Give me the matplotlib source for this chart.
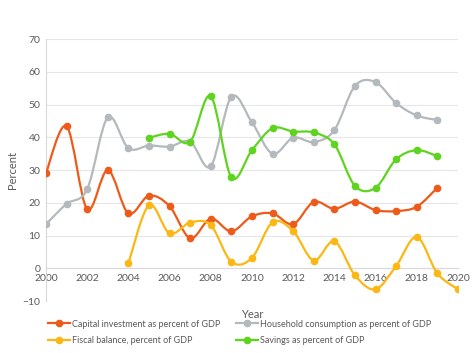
import matplotlib.pyplot as plt
from matplotlib.path import Path
from matplotlib.patches import PathPatch
from matplotlib.lines import Line2D

plt.rcParams['font.family'] = ['Lato', 'DejaVu Sans']

years_capital = list(range(2000, 2020))
capital = [29.1, 43.4, 18.1, 30.0, 16.8, 22.2, 19.0, 9.2, 15.2, 11.3,
           15.9, 16.8, 13.5, 20.3, 18.2, 20.4, 17.8, 17.5, 18.8, 24.6]

years_household = list(range(2000, 2020))
household = [13.5, 19.7, 24.2, 46.1, 36.7, 37.5, 37.2, 38.7, 31.2, 52.4,
             44.6, 35.0, 39.9, 38.6, 42.2, 55.7, 56.9, 50.5, 46.7, 45.3]

years_fiscal = list(range(2004, 2021))
fiscal = [1.5, 19.3, 10.7, 14.0, 13.2, 2.0, 3.2, 14.1, 11.4, 2.4,
          8.3, -2.1, -6.4, 0.7, 9.6, -1.5, -6.4]

years_savings = list(range(2005, 2020))
savings = [39.9, 41.1, 38.7, 52.6, 27.8, 36.1, 42.8, 41.8, 41.5, 37.9,
           25.2, 24.6, 33.3, 36.1, 34.3]

labels = ["Capital investment as percent of GDP",
          "Household consumption as percent of GDP",
          "Fiscal balance, percent of GDP",
          "Savings as percent of GDP"]
colors = ["#EE5A1A", "#B3B9BC", "#FBB714", "#5FD41E"]


def smooth_path(xs, ys):
    # excel-like smoothed line, bezier segments through the points
    pts = list(zip(xs, ys))
    verts = [pts[0]]
    codes = [Path.MOVETO]
    n = len(pts)
    for i in range(n - 1):
        p0 = pts[i - 1] if i > 0 else pts[i]
        p1 = pts[i]
        p2 = pts[i + 1]
        p3 = pts[i + 2] if i + 2 < n else pts[i + 1]
        c1 = (p1[0] + (p2[0] - p0[0]) / 6, p1[1] + (p2[1] - p0[1]) / 6)
        c2 = (p2[0] - (p3[0] - p1[0]) / 6, p2[1] - (p3[1] - p1[1]) / 6)
        verts += [c1, c2, p2]
        codes += [Path.CURVE4] * 3
    return Path(verts, codes)


fig = plt.figure(figsize=(4.74, 3.53), dpi=100)
ax = fig.add_axes([0.097, 0.147, 0.869, 0.742])

series = [(years_capital, capital), (years_household, household),
          (years_fiscal, fiscal), (years_savings, savings)]
for (xs, ys), c in zip(series, colors):
    ax.add_patch(PathPatch(smooth_path(xs, ys), facecolor='none',
                           edgecolor=c, lw=1.6, zorder=3))
    ax.plot(xs, ys, 'o', color=c, ms=4.5, zorder=4)

ax.set_xlim(2000, 2020)
ax.set_ylim(-10, 70)
ax.set_yticks(range(-10, 80, 10))
ax.set_xticks(range(2000, 2021, 2))
ax.grid(axis='y', color='#E6E6E6', lw=0.8)
ax.set_axisbelow(True)
for s in ['top', 'right']:
    ax.spines[s].set_visible(False)
ax.spines['bottom'].set_position(('data', 0))
ax.spines['bottom'].set_color('#D9D9D9')
ax.spines['left'].set_color('#D9D9D9')
ax.tick_params(length=0, labelsize=7.5, colors='#595959', pad=4)

ax.set_ylabel("Percent", fontsize=8, color='#595959', labelpad=3)
fig.text(0.532, 0.1, "Year", fontsize=8, color='#595959', ha='center')

# legend fills column-first, so order the handles to get the reference rows
order = [0, 2, 1, 3]
handles = [Line2D([], [], color=colors[i], lw=1.6, marker='o', ms=4.5) for i in order]
fig.legend(handles, [labels[i] for i in order], ncol=2, loc='lower left',
           bbox_to_anchor=(0.085, 0.0), frameon=False, fontsize=6.5,
           labelcolor='#595959', handlelength=2.4, handletextpad=0.2,
           columnspacing=1.8, labelspacing=0.8)

fig.savefig("out.png", dpi=100)
